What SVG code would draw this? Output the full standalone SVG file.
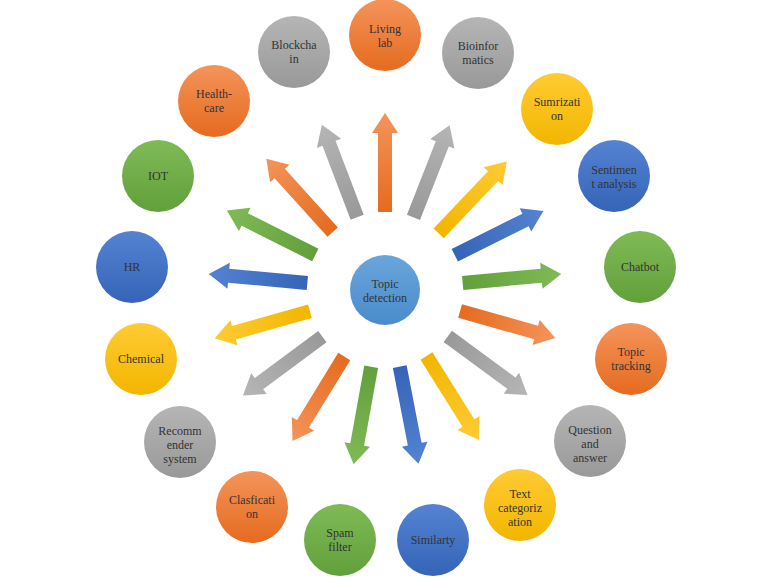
<svg xmlns="http://www.w3.org/2000/svg" width="773" height="578" viewBox="0 0 773 578">
<defs>
<linearGradient id="go" x1="0" y1="0" x2="0" y2="1"><stop offset="0" stop-color="#F4945A"/><stop offset="1" stop-color="#E56B1F"/></linearGradient>
<linearGradient id="gg" x1="0" y1="0" x2="0" y2="1"><stop offset="0" stop-color="#B5B5B5"/><stop offset="1" stop-color="#999"/></linearGradient>
<linearGradient id="gy" x1="0" y1="0" x2="0" y2="1"><stop offset="0" stop-color="#FFCB33"/><stop offset="1" stop-color="#F2B600"/></linearGradient>
<linearGradient id="gb" x1="0" y1="0" x2="0" y2="1"><stop offset="0" stop-color="#5583D2"/><stop offset="1" stop-color="#3564B8"/></linearGradient>
<linearGradient id="gn" x1="0" y1="0" x2="0" y2="1"><stop offset="0" stop-color="#7FBA55"/><stop offset="1" stop-color="#62A03C"/></linearGradient>
<linearGradient id="gc" x1="0" y1="0" x2="0" y2="1"><stop offset="0" stop-color="#6AA6DC"/><stop offset="1" stop-color="#4A8BCB"/></linearGradient>
<polygon id="ar" points="-7,-78 -7,-157 -13,-157 0,-177 13,-157 7,-157 7,-78"/>
</defs>
<style>
text{font-family:"Liberation Serif",serif;font-size:12px;fill:#333;text-anchor:middle}
.o{fill:url(#go)}.g{fill:url(#gg)}.y{fill:url(#gy)}.b{fill:url(#gb)}.n{fill:url(#gn)}
</style>
<g id="connectors" transform="translate(385,290)">
<use href="#ar" class="o" transform="rotate(0)"/>
<use href="#ar" class="g" transform="rotate(21.4)"/>
<use href="#ar" class="y" transform="rotate(43.5)"/>
<use href="#ar" class="b" transform="rotate(63.5)"/>
<use href="#ar" class="n" transform="rotate(84.8)"/>
<use href="#ar" class="o" transform="rotate(105.7)"/>
<use href="#ar" class="g" transform="rotate(126.4)"/>
<use href="#ar" class="y" transform="rotate(147.9)"/>
<use href="#ar" class="b" transform="rotate(169.1)"/>
<use href="#ar" class="n" transform="rotate(190.2)"/>
<use href="#ar" class="o" transform="rotate(211.5)"/>
<use href="#ar" class="g" transform="rotate(233.4)"/>
<use href="#ar" class="y" transform="rotate(254.2)"/>
<use href="#ar" class="b" transform="rotate(275.2)"/>
<use href="#ar" class="n" transform="rotate(296.7)"/>
<use href="#ar" class="o" transform="rotate(317.9)"/>
<use href="#ar" class="g" transform="rotate(339.1)"/>
</g>
<g id="center"><circle cx="385" cy="290" r="35" fill="url(#gc)"/><text x="385" y="288">Topic</text><text x="385" y="302">detection</text></g>
<g id="n1"><circle cx="385" cy="35" r="36" class="o"/><text x="385" y="33">Living</text><text x="385" y="47">lab</text></g>
<g id="n2"><circle cx="478" cy="53" r="36" class="g"/><text x="478" y="50">Bioinfor</text><text x="478" y="64">matics</text></g>
<g id="n3"><circle cx="557" cy="109" r="36" class="y"/><text x="557" y="106">Sumrizati</text><text x="557" y="120">on</text></g>
<g id="n4"><circle cx="614" cy="176" r="36" class="b"/><text x="614" y="174">Sentimen</text><text x="614" y="188">t analysis</text></g>
<g id="n5"><circle cx="640" cy="267" r="36" class="n"/><text x="640" y="271">Chatbot</text></g>
<g id="n6"><circle cx="631" cy="359" r="36" class="o"/><text x="631" y="356">Topic</text><text x="631" y="370">tracking</text></g>
<g id="n7"><circle cx="590" cy="441" r="36" class="g"/><text x="590" y="434">Question</text><text x="590" y="448">and</text><text x="590" y="462">answer</text></g>
<g id="n8"><circle cx="520" cy="505" r="36" class="y"/><text x="520" y="498">Text</text><text x="520" y="512">categoriz</text><text x="520" y="526">ation</text></g>
<g id="n9"><circle cx="433" cy="540" r="36" class="b"/><text x="433" y="544">Similarty</text></g>
<g id="n10"><circle cx="340" cy="540" r="36" class="n"/><text x="340" y="537">Spam</text><text x="340" y="551">filter</text></g>
<g id="n11"><circle cx="252" cy="507" r="36" class="o"/><text x="252" y="504">Clasficati</text><text x="252" y="518">on</text></g>
<g id="n12"><circle cx="180" cy="442" r="36" class="g"/><text x="180" y="435">Recomm</text><text x="180" y="449">ender</text><text x="180" y="463">system</text></g>
<g id="n13"><circle cx="141" cy="359" r="36" class="y"/><text x="141" y="363">Chemical</text></g>
<g id="n14"><circle cx="132" cy="267" r="36" class="b"/><text x="132" y="271">HR</text></g>
<g id="n15"><circle cx="158" cy="176" r="36" class="n"/><text x="158" y="180">IOT</text></g>
<g id="n16"><circle cx="214" cy="101" r="36" class="o"/><text x="214" y="98">Health-</text><text x="214" y="112">care</text></g>
<g id="n17"><circle cx="294" cy="52" r="36" class="g"/><text x="294" y="49">Blockcha</text><text x="294" y="63">in</text></g>
</svg>
